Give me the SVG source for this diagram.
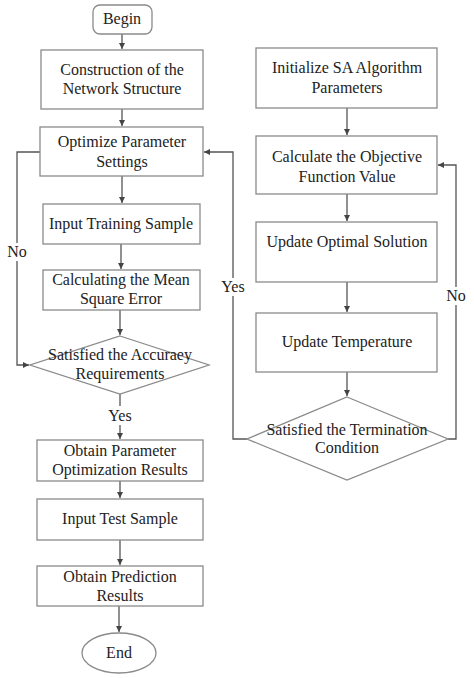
<svg xmlns="http://www.w3.org/2000/svg" width="474" height="678" viewBox="0 0 474 678">
<style>
.box{fill:#fff;stroke:#8a8a8a;stroke-width:1.3}
.c{fill:none;stroke:#555;stroke-width:1.3}
</style>
<defs>
<marker id="ah" markerWidth="8" markerHeight="8" refX="6" refY="3" orient="auto" markerUnits="userSpaceOnUse">
<path d="M0,0 L6,3 L0,6 z" fill="#444"/>
</marker>
</defs>
<rect width="474" height="678" fill="#fff"/>
<g id="connectors">
<line class="c" x1="122" y1="34" x2="122" y2="49" marker-end="url(#ah)"/>
<line class="c" x1="122" y1="109" x2="122" y2="126" marker-end="url(#ah)"/>
<line class="c" x1="122" y1="176" x2="122" y2="203" marker-end="url(#ah)"/>
<line class="c" x1="121" y1="244" x2="121" y2="269" marker-end="url(#ah)"/>
<line class="c" x1="120" y1="310" x2="120" y2="335" marker-end="url(#ah)"/>
<polyline class="c" points="40,152 17,152 17,365 29,365" marker-end="url(#ah)"/>
<line class="c" x1="120" y1="394" x2="120" y2="406"/>
<line class="c" x1="120" y1="425" x2="120" y2="439" marker-end="url(#ah)"/>
<line class="c" x1="120" y1="481" x2="120" y2="498" marker-end="url(#ah)"/>
<line class="c" x1="120" y1="540" x2="120" y2="565" marker-end="url(#ah)"/>
<line class="c" x1="119" y1="606" x2="119" y2="632" marker-end="url(#ah)"/>
<line class="c" x1="347" y1="108" x2="347" y2="135" marker-end="url(#ah)"/>
<line class="c" x1="347" y1="194" x2="347" y2="221" marker-end="url(#ah)"/>
<line class="c" x1="347" y1="282" x2="347" y2="312" marker-end="url(#ah)"/>
<line class="c" x1="347" y1="372" x2="347" y2="396" marker-end="url(#ah)"/>
<polyline class="c" points="448,439 456,439 456,165 438,165" marker-end="url(#ah)"/>
<polyline class="c" points="247,439 233,439 233,152 204,152" marker-end="url(#ah)"/>
<rect x="222" y="278" width="24" height="18" fill="#fff"/>
<rect x="445" y="287" width="22" height="18" fill="#fff"/>
<rect x="6" y="243" width="22" height="18" fill="#fff"/>
</g>
<g font-family="Liberation Serif, serif" font-size="16" fill="#222" text-anchor="middle">
<g id="labels">
<text x="17" y="257">No</text>
<text x="120" y="421">Yes</text>
<text x="233" y="292">Yes</text>
<text x="456" y="301">No</text>
</g>
<g id="begin"><rect class="box" x="93" y="5" width="59" height="29" rx="7"/><text x="122" y="24">Begin</text></g>
<g id="construction"><rect class="box" x="41" y="50" width="162" height="59"/><text x="122" y="75">Construction of the</text><text x="122" y="94">Network Structure</text></g>
<g id="optimize"><rect class="box" x="40" y="127" width="163" height="49"/><text x="122" y="147">Optimize Parameter</text><text x="122" y="167">Settings</text></g>
<g id="input-training"><rect class="box" x="43" y="204" width="157" height="40"/><text x="121" y="229">Input Training Sample</text></g>
<g id="mse"><rect class="box" x="43" y="270" width="157" height="40"/><text x="121" y="285">Calculating the Mean</text><text x="121" y="304">Square Error</text></g>
<g id="accuracy"><polygon class="box" points="120,336 209,365 120,394 30,365"/><text x="120" y="360">Satisfied the Accuraey</text><text x="120" y="379">Requirements</text></g>
<g id="obtain-param"><rect class="box" x="37" y="440" width="166" height="41"/><text x="120" y="456">Obtain Parameter</text><text x="120" y="475">Optimization Results</text></g>
<g id="input-test"><rect class="box" x="37" y="499" width="166" height="41"/><text x="120" y="524">Input Test Sample</text></g>
<g id="obtain-pred"><rect class="box" x="37" y="566" width="166" height="40"/><text x="120" y="582">Obtain Prediction</text><text x="120" y="601">Results</text></g>
<g id="end"><ellipse class="box" cx="119" cy="653" rx="37" ry="20"/><text x="119" y="658">End</text></g>
<g id="init-sa"><rect class="box" x="256" y="48" width="181" height="60"/><text x="347" y="73">Initialize SA Algorithm</text><text x="347" y="93">Parameters</text></g>
<g id="objective"><rect class="box" x="256" y="136" width="181" height="58"/><text x="347" y="162">Calculate the Objective</text><text x="347" y="182">Function Value</text></g>
<g id="update-opt"><rect class="box" x="256" y="222" width="181" height="60"/><text x="347" y="247">Update Optimal Solution</text></g>
<g id="update-temp"><rect class="box" x="256" y="313" width="181" height="59"/><text x="347" y="347">Update Temperature</text></g>
<g id="termination"><polygon class="box" points="347,397 448,439 347,480 247,439"/><text x="347" y="435">Satisfied the Termination</text><text x="347" y="453">Condition</text></g>
</g>
</svg>
